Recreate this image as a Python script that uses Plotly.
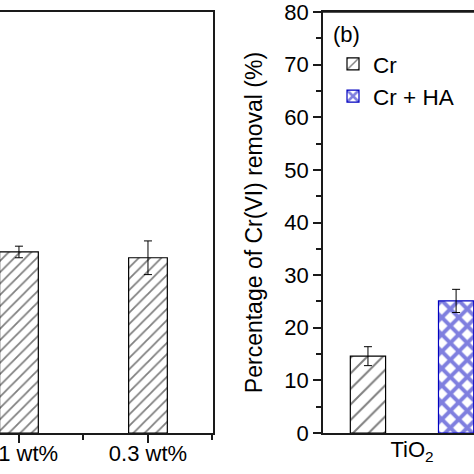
import plotly.graph_objects as go

# ---- data ----
left_categories = ["0.1 wt%", "0.3 wt%"]
left_values = [34.4, 33.3]
left_errors = [1.1, 3.2]

right_category = ["TiO<sub>2</sub>"]
cr_values = [14.6]
cr_errors = [1.8]
crha_values = [25.1]
crha_errors = [2.2]

series_names = ["Cr", "Cr + HA"]
y_ticks = [0, 10, 20, 30, 40, 50, 60, 70, 80]

FONT = "Liberation Sans, Arial, sans-serif"
BLUE = "#0000c0"
AX = "#1a1a1a"

left_x = list(range(len(left_categories)))

fig = go.Figure()

# left panel (cropped)
fig.add_trace(go.Bar(
    x=left_x, y=left_values, width=0.3, xaxis="x", yaxis="y",
    marker=dict(color="white", line=dict(color="black", width=1.2),
                pattern=dict(shape="/", fgcolor="black", bgcolor="white", size=8, solidity=0.22)),
    error_y=dict(type="data", array=left_errors, color="black", thickness=1, width=4),
    showlegend=False,
))

# right panel (b)
fig.add_trace(go.Bar(
    x=right_category, y=cr_values, name=series_names[0], xaxis="x2", yaxis="y2",
    marker=dict(color="white", line=dict(color="black", width=1.2),
                pattern=dict(shape="/", fgcolor="black", bgcolor="white", size=11, solidity=0.18)),
    error_y=dict(type="data", array=cr_errors, color="black", thickness=1, width=4),
))
fig.add_trace(go.Bar(
    x=right_category, y=crha_values, name=series_names[1], xaxis="x2", yaxis="y2",
    marker=dict(color="white", line=dict(color=BLUE, width=1.2),
                pattern=dict(shape="x", fgcolor=BLUE, bgcolor="white", size=12, solidity=0.55)),
    error_y=dict(type="data", array=crha_errors, color="black", thickness=1, width=4),
))

fig.update_layout(
    width=474, height=474,
    margin=dict(l=0, r=0, t=12, b=41, autoexpand=False),
    paper_bgcolor="white", plot_bgcolor="white",
    font=dict(family=FONT, size=22, color="black"),
    barmode="group", bargap=0.01, bargroupgap=0.6,
    xaxis=dict(
        domain=[0, 213 / 474], range=[-0.147, 1.504], automargin=False,
        tickmode="array", tickvals=left_x, ticktext=left_categories,
        showline=True, linecolor=AX, linewidth=1.5, mirror=True,
        ticks="outside", ticklen=8, tickwidth=1.5, tickcolor=AX,
        minor=dict(ticks="outside", ticklen=5, tickwidth=1.5, tickcolor=AX, dtick=0.5, tick0=0),
        showgrid=False, zeroline=False, anchor="y",
        tickfont=dict(size=22), ticklabeloverflow="allow", ticklabelstandoff=-8,
    ),
    yaxis=dict(
        domain=[0, 1], range=[0, 80], side="right", anchor="x", automargin=False,
        showline=True, linecolor=AX, linewidth=1.5,
        ticks="", showticklabels=False, showgrid=False, zeroline=False,
    ),
    xaxis2=dict(
        domain=[323 / 474, 1], range=[-0.5, 0.348], anchor="y2", automargin=False,
        type="category",
        showline=True, linecolor=AX, linewidth=1.5, mirror=True,
        ticks="", showgrid=False, zeroline=False,
        tickfont=dict(size=22), ticklabeloverflow="allow", ticklabelstandoff=-4,
    ),
    yaxis2=dict(
        domain=[0, 1], range=[0, 80], anchor="x2", automargin=False,
        tickmode="array", tickvals=y_ticks,
        showline=True, linecolor=AX, linewidth=1.5,
        ticks="outside", ticklen=8, tickwidth=1.5, tickcolor=AX,
        minor=dict(ticks="outside", ticklen=5, tickwidth=1.5, tickcolor=AX, dtick=5, tick0=0),
        showgrid=False, zeroline=False,
        tickfont=dict(size=22), ticklabeloverflow="allow",
        title=dict(text="Percentage of Cr(VI) removal (%)", font=dict(size=23)),
    ),
    legend=dict(
        x=333 / 474, xanchor="left", y=0.927, yanchor="top",
        bgcolor="rgba(0,0,0,0)", font=dict(size=22.5),
        traceorder="normal",
    ),
    annotations=[dict(
        text="(b)", x=331 / 474, xref="paper", xanchor="left",
        y=75.7, yref="y2", yanchor="middle", showarrow=False,
        font=dict(size=22),
    )],
    shapes=[dict(
        type="line", xref="paper", yref="paper", layer="above",
        x0=322 / 474, x1=1, y0=1, y1=1, line=dict(color=AX, width=1.5),
    )],
)

fig.write_html("out.html", config={"displayModeBar": False})
